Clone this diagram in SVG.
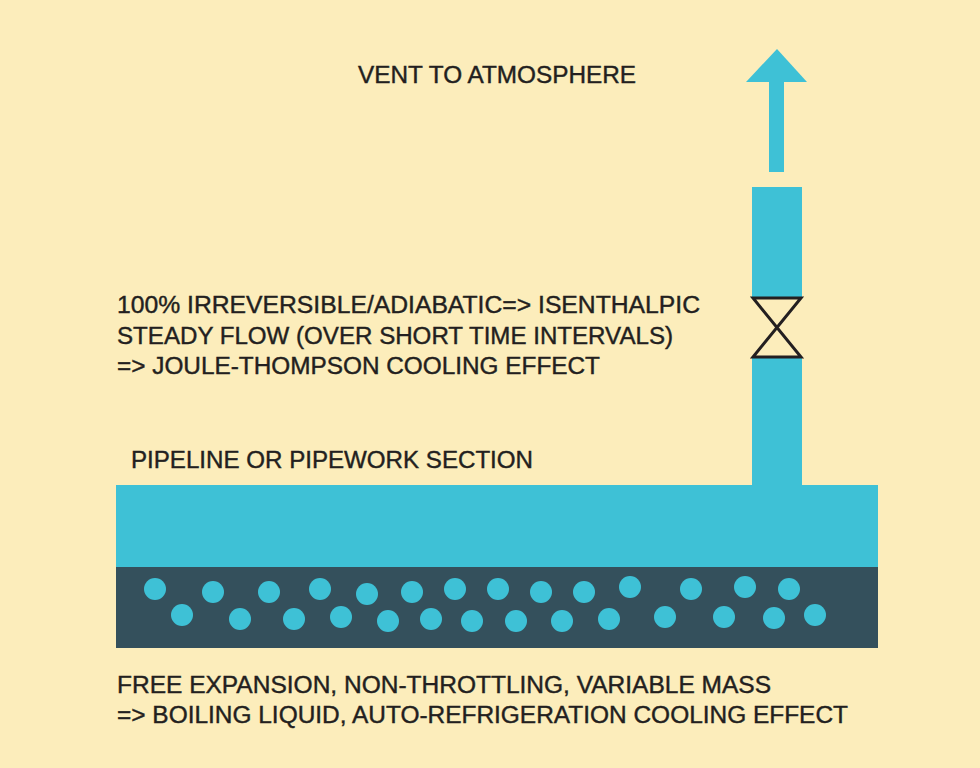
<svg xmlns="http://www.w3.org/2000/svg" width="980" height="768" viewBox="0 0 980 768">
<style>
text{font-family:"Liberation Sans",Arial,sans-serif;font-size:23px;fill:#231f20;stroke:#231f20;stroke-width:0.4}
.c{fill:#3ec1d6}
</style>
<rect width="980" height="768" fill="#fcedbb"/>
<g id="vent-arrow"><rect class="c" x="769" y="81" width="15" height="91"/><polygon class="c" points="777,49 807,82 746,82"/></g>
<g id="vent-pipe"><rect class="c" x="752" y="187" width="50" height="111"/><rect class="c" x="752" y="357" width="50" height="130"/></g>
<g id="valve"><path d="M753,298 H801 L753,357 H801 Z" fill="none" stroke="#231f20" stroke-width="3" stroke-linejoin="miter"/></g>
<g id="pipeline"><rect class="c" x="116" y="485" width="762" height="82"/><rect x="116" y="567" width="762" height="81" fill="#34505c"/>
<g class="c">
<circle cx="155" cy="589" r="11"/><circle cx="213" cy="592" r="11"/><circle cx="269" cy="592" r="11"/><circle cx="320" cy="589" r="11"/><circle cx="367" cy="594" r="11"/><circle cx="412" cy="592" r="11"/><circle cx="455" cy="589" r="11"/><circle cx="498" cy="589" r="11"/><circle cx="541" cy="592" r="11"/><circle cx="584" cy="592" r="11"/><circle cx="630" cy="587" r="11"/><circle cx="691" cy="589" r="11"/><circle cx="745" cy="587" r="11"/><circle cx="789" cy="589" r="11"/>
<circle cx="182" cy="615" r="11"/><circle cx="240" cy="619" r="11"/><circle cx="294" cy="619" r="11"/><circle cx="341" cy="617" r="11"/><circle cx="388" cy="621" r="11"/><circle cx="431" cy="619" r="11"/><circle cx="472" cy="621" r="11"/><circle cx="516" cy="621" r="11"/><circle cx="562" cy="621" r="11"/><circle cx="609" cy="619" r="11"/><circle cx="665" cy="617" r="11"/><circle cx="724" cy="617" r="11"/><circle cx="774" cy="618" r="11"/><circle cx="815" cy="615" r="11"/>
</g></g>
<g id="labels" lengthAdjust="spacingAndGlyphs">
<text x="358" y="83" textLength="278" lengthAdjust="spacingAndGlyphs">VENT TO ATMOSPHERE</text>
<text x="117" y="313" textLength="583" lengthAdjust="spacingAndGlyphs">100% IRREVERSIBLE/ADIABATIC=&gt; ISENTHALPIC</text>
<text x="117" y="344" textLength="556" lengthAdjust="spacingAndGlyphs">STEADY FLOW (OVER SHORT TIME INTERVALS)</text>
<text x="117" y="374" textLength="483" lengthAdjust="spacingAndGlyphs">=&gt; JOULE-THOMPSON COOLING EFFECT</text>
<text x="131" y="468" textLength="402" lengthAdjust="spacingAndGlyphs">PIPELINE OR PIPEWORK SECTION</text>
<text x="117" y="693" textLength="654" lengthAdjust="spacingAndGlyphs">FREE EXPANSION, NON-THROTTLING, VARIABLE MASS</text>
<text x="117" y="723" textLength="731" lengthAdjust="spacingAndGlyphs">=&gt; BOILING LIQUID, AUTO-REFRIGERATION COOLING EFFECT</text>
</g>
</svg>
